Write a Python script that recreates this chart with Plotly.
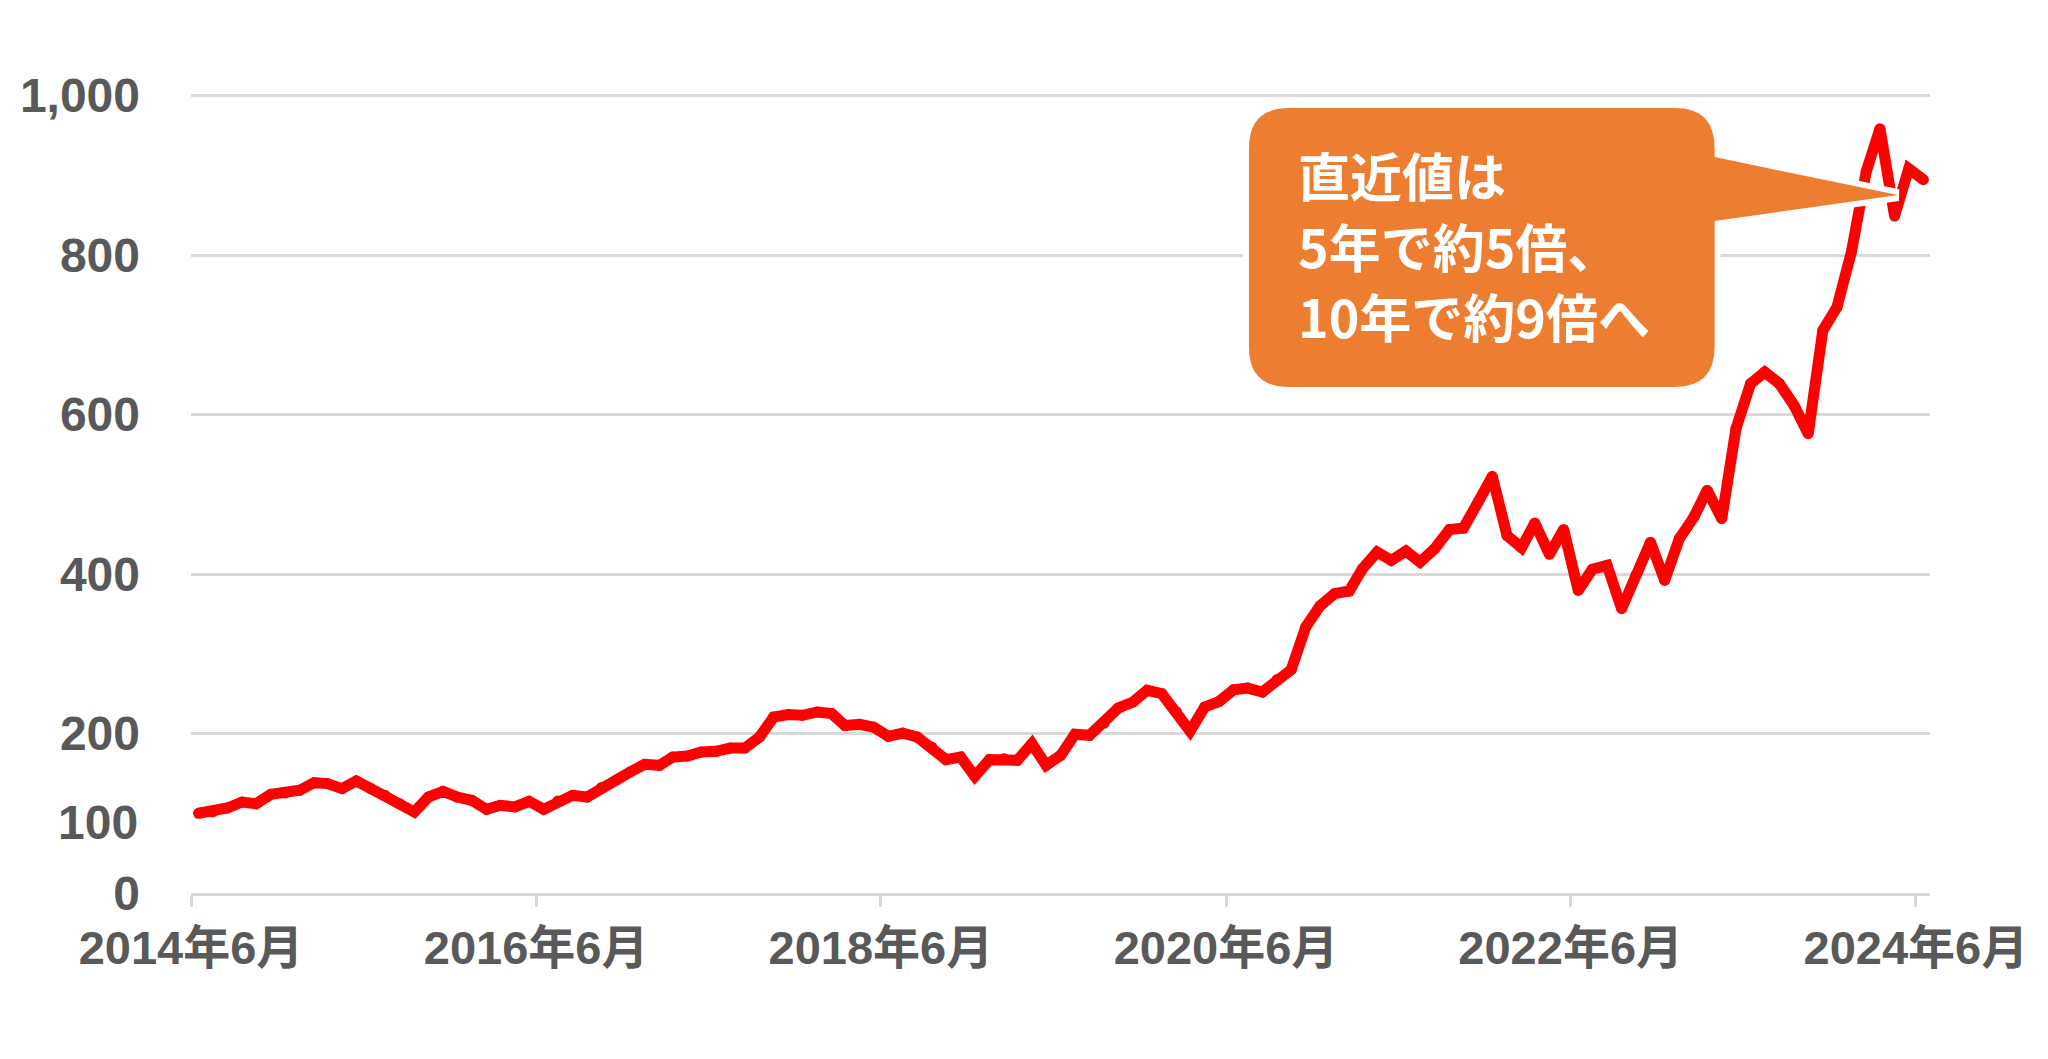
import pandas as pd
import plotly.graph_objects as go

# monthly points, Jun 2014 .. Jun 2024 (index, Jun 2014 = 100)
months = pd.date_range("2014-06-01", "2024-06-01", freq="MS") + pd.Timedelta(days=16)
values = [
    100, 101.6, 106.6, 114.1, 112, 123.8, 125.4, 128.8, 138.4, 137.2,
    130.9, 140.5, 130.9, 122.5, 112, 101.6, 120.4, 127.5, 120.4, 116.2,
    104.9, 110, 107.9, 115, 104.9, 115.4, 122.5, 120.4, 132.2, 141.3,
    151.8, 161.4, 160.1, 170.5, 171.8, 176.8, 177.7, 181.8, 181.8, 195.6,
    220.7, 223.7, 222.8, 227, 225, 210, 211.5, 208, 196.5, 200.5,
    195.6, 183, 167.2, 170.5, 146.3, 167.2, 168.5, 166.4, 187.3, 160.1,
    172.7, 199, 197.7, 213.2, 232, 239.5, 254.2, 250, 227, 203,
    233.3, 240, 255, 257, 252, 267.6, 280, 333.6, 360, 375.4,
    378.7, 406.7, 427.6, 417.2, 428.8, 415, 431.8, 455.7, 457.7, 490.3,
    522.5, 448.5, 433, 464, 424.7, 456, 379.5, 406, 410.9, 356.6,
    398.4, 440, 392, 444.4, 471.5, 505, 469.5, 582.3, 638.8, 653.3,
    638.8, 611.5, 576, 705.6, 734.8, 805, 905, 958.5, 849, 908.3,
    894.5,
]

x_ticks = ["2014-06-01", "2016-06-01", "2018-06-01", "2020-06-01", "2022-06-01", "2024-06-01"]
x_labels = ["2014年6月", "2016年6月", "2018年6月", "2020年6月", "2022年6月", "2024年6月"]
y_ticks = [0, 200, 400, 600, 800, 1000]
y_labels = ["0", "200", "400", "600", "800", "1,000"]
callout_lines = ["直近値は", "5年で約5倍、", "10年で約9倍へ"]

# page body has an 8px margin, so the figure is a bit smaller than the window
W, H = 2032, 1043
Y_TOP = 1002
L, R, B = 180, 108, 158
T = H - B - Y_TOP * 0.7975
GRAY = "#D9D9D9"
TXT = "#595959"
FONT = "Liberation Sans, Noto Sans CJK JP, sans-serif"
LW = 11


def px(x):
    # x in page pixels -> paper
    return (x - 8 - L) / (W - L - R)


def py(y):
    # y in page pixels -> paper
    return (H - B - (y - 8)) / (H - T - B)


fig = go.Figure()
fig.add_trace(go.Scatter(x=months, y=values, mode="lines+markers",
                         line=dict(color="#FF0000", width=LW),
                         marker=dict(color="#FF0000", size=LW, line=dict(width=0)),
                         hoverinfo="skip", showlegend=False))

fig.update_layout(
    width=W, height=H, autosize=False,
    margin=dict(l=L, r=R, t=T, b=B, pad=0),
    paper_bgcolor="white", plot_bgcolor="white",
    font=dict(family=FONT, color=TXT),
)

fig.update_xaxes(type="date", range=["2014-06-01", "2024-07-01"],
                 tickvals=x_ticks, ticktext=x_labels,
                 ticks="outside", ticklen=11, tickwidth=3, tickcolor=GRAY,
                 showline=True, linecolor=GRAY, linewidth=3, showgrid=False,
                 zeroline=False, ticklabelstandoff=1,
                 tickfont=dict(family=FONT, size=47, color=TXT, weight="bold"))

fig.update_yaxes(range=[0, Y_TOP], tickvals=y_ticks, ticktext=y_labels,
                 showgrid=True, gridcolor=GRAY, gridwidth=3, zeroline=False,
                 showline=False, ticks="", ticklabelstandoff=50,
                 tickfont=dict(family=FONT, size=48, color=TXT, weight="bold"))

# the "100" label sits a little low and has no gridline
fig.add_annotation(xref="paper", yref="y", x=0, y=100, text="100",
                   xanchor="right", yanchor="middle", xshift=-51, yshift=-9,
                   showarrow=False,
                   font=dict(family=FONT, size=48, color=TXT, weight="bold"))

# callout box with pointer (page pixel positions)
x0, x1, y0, y1, r = 1249, 1716, 108, 387, 40
tip = (1900, 195)
pts = "M {},{} L {},{} Q {},{} {},{} L {},{} L {},{} L {},{} L {},{} Q {},{} {},{} L {},{} Q {},{} {},{} L {},{} Q {},{} {},{} Z".format(
    px(x0 + r), py(y0), px(x1 - r), py(y0),
    px(x1), py(y0), px(x1), py(y0 + r),
    px(x1), py(157), px(tip[0]), py(tip[1]), px(x1), py(221),
    px(x1), py(y1 - r),
    px(x1), py(y1), px(x1 - r), py(y1),
    px(x0 + r), py(y1),
    px(x0), py(y1), px(x0), py(y1 - r),
    px(x0), py(y0 + r),
    px(x0), py(y0), px(x0 + r), py(y0),
)
fig.add_shape(type="path", path=pts, xref="paper", yref="paper",
              fillcolor="white", line=dict(color="white", width=12), layer="above")
fig.add_shape(type="path", path=pts, xref="paper", yref="paper",
              fillcolor="#ED7D31", line=dict(width=0), layer="above")

for text, yc in zip(callout_lines, [174, 245, 315]):
    fig.add_annotation(xref="paper", yref="paper", x=px(1296), y=py(yc),
                       text=text, xanchor="left", yanchor="middle", showarrow=False,
                       font=dict(family="Noto Sans CJK JP, sans-serif", size=52,
                                 color="white", weight="bold"))

fig.write_html("out.html")
